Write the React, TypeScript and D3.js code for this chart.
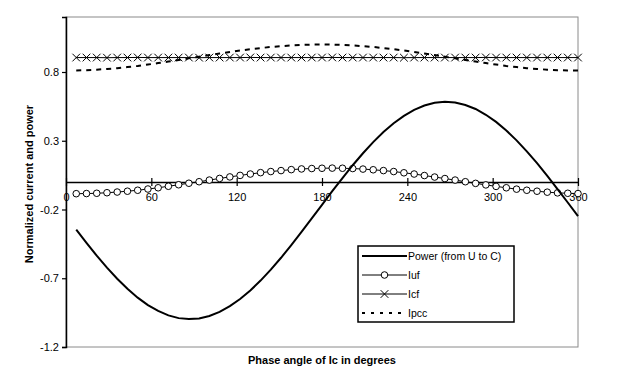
import React, { useEffect, useRef } from "react";
import * as d3 from "d3";

// phase angle of Ic, 50 points, degrees
const angles: number[] = Array.from({ length: 50 }, (_, i) => +((i + 1) * 7.2).toFixed(1));

const power: number[] = [
  -0.347, -0.443, -0.536, -0.623, -0.704, -0.777, -0.841, -0.895, -0.938, -0.970,
  -0.990, -0.997, -0.992, -0.974, -0.945, -0.903, -0.851, -0.789, -0.717, -0.637,
  -0.551, -0.459, -0.363, -0.265, -0.166, -0.067, 0.029, 0.122, 0.209, 0.290,
  0.363, 0.427, 0.481, 0.524, 0.556, 0.576, 0.583, 0.578, 0.560, 0.531,
  0.489, 0.437, 0.375, 0.303, 0.223, 0.137, 0.045, -0.051, -0.149, -0.248,
];

const iuf: number[] = [
  -0.085, -0.084, -0.082, -0.078, -0.073, -0.067, -0.060, -0.051, -0.042, -0.031,
  -0.020, -0.009, 0.002, 0.014, 0.026, 0.037, 0.048, 0.058, 0.068, 0.076,
  0.083, 0.090, 0.095, 0.098, 0.100, 0.101, 0.100, 0.098, 0.094, 0.089,
  0.083, 0.076, 0.067, 0.058, 0.047, 0.036, 0.025, 0.014, 0.002, -0.010,
  -0.021, -0.032, -0.042, -0.052, -0.060, -0.067, -0.074, -0.079, -0.082, -0.084,
];

const icf: number[] = [
  0.905, 0.905, 0.905, 0.904, 0.905, 0.905, 0.906, 0.905, 0.905, 0.905,
  0.905, 0.905, 0.904, 0.905, 0.905, 0.905, 0.905, 0.906, 0.905, 0.905,
  0.905, 0.905, 0.905, 0.905, 0.905, 0.906, 0.905, 0.905, 0.905, 0.905,
  0.905, 0.905, 0.904, 0.905, 0.905, 0.905, 0.905, 0.905, 0.905, 0.905,
  0.906, 0.905, 0.905, 0.905, 0.905, 0.905, 0.905, 0.905, 0.905, 0.905,
];

const ipcc: number[] = [
  0.811, 0.813, 0.817, 0.822, 0.828, 0.836, 0.844, 0.854, 0.865, 0.876,
  0.887, 0.899, 0.911, 0.923, 0.934, 0.945, 0.956, 0.966, 0.974, 0.982,
  0.988, 0.993, 0.997, 0.999, 1.000, 0.999, 0.997, 0.993, 0.988, 0.982,
  0.974, 0.966, 0.956, 0.945, 0.934, 0.923, 0.911, 0.899, 0.887, 0.876,
  0.865, 0.854, 0.844, 0.836, 0.828, 0.822, 0.817, 0.813, 0.811, 0.810,
];

const xTicks: number[] = [0, 60, 120, 180, 240, 300, 360];
const yTicks: number[] = [-1.2, -0.7, -0.2, 0.3, 0.8];

const legendLabels: string[] = ["Power (from U to C)", "Iuf", "Icf", "Ipcc"];

const FONT = "Arial, 'Liberation Sans', sans-serif";

const App: React.FC = () => {
  const svgRef = useRef<SVGSVGElement>(null);

  useEffect(() => {
    if (!svgRef.current) return;
    document.body.style.margin = "0";

    const svg = d3.select(svgRef.current);
    svg.selectAll("*").remove();

    const left = 66, right = 578, top = 17, bottom = 347;

    const x = d3.scaleLinear().domain([0, 360]).range([left, right]);
    const y = d3.scaleLinear().domain([-1.2, 1.2]).range([bottom, top]);

    // plot area frame
    svg.append("rect")
      .attr("x", left).attr("y", top)
      .attr("width", right - left).attr("height", bottom - top)
      .attr("fill", "none")
      .attr("stroke", "#8a8a8a")
      .attr("stroke-width", 1);

    // Y axis (plain hyphen for minus, like the original)
    const yAxis = svg.append("g")
      .attr("transform", `translate(${left},0)`)
      .call(d3.axisLeft(y).tickValues(yTicks).tickSize(4).tickPadding(3)
        .tickFormat(d => (d as number).toFixed(1)));
    yAxis.select(".domain").attr("stroke", "#000").attr("stroke-width", 1.5);
    yAxis.selectAll(".tick line").attr("stroke", "#000").attr("stroke-width", 1.2);
    yAxis.selectAll("text")
      .attr("font-family", FONT).attr("font-size", 11).attr("fill", "#000");

    // X axis at y = 0, ticks crossing the line
    const xAxis = svg.append("g")
      .attr("transform", `translate(0,${y(0)})`)
      .call(d3.axisBottom(x).tickValues(xTicks).tickSizeInner(4).tickSizeOuter(0).tickPadding(7));
    xAxis.select(".domain").attr("stroke", "#000").attr("stroke-width", 1.5);
    xAxis.selectAll(".tick line")
      .attr("y1", -4).attr("y2", 4)
      .attr("stroke", "#000").attr("stroke-width", 1.2);
    xAxis.selectAll("text")
      .attr("font-family", FONT).attr("font-size", 11).attr("fill", "#000");

    const pts = (vals: number[]) => angles.map((a, i) => [a, vals[i]] as [number, number]);
    const line = d3.line<[number, number]>().x(d => x(d[0])).y(d => y(d[1]));

    // Ipcc dashed
    svg.append("path")
      .datum(pts(ipcc))
      .attr("fill", "none").attr("stroke", "#000")
      .attr("stroke-width", 2).attr("stroke-dasharray", "5,5")
      .attr("d", line);

    // Icf with x markers
    svg.append("path")
      .datum(pts(icf))
      .attr("fill", "none").attr("stroke", "#000").attr("stroke-width", 1)
      .attr("d", line);
    const xm = d3.symbol().type(d3.symbolX).size(40);
    svg.append("g").selectAll("path")
      .data(pts(icf)).enter().append("path")
      .attr("transform", d => `translate(${x(d[0])},${y(d[1])})`)
      .attr("d", xm())
      .attr("fill", "none").attr("stroke", "#000").attr("stroke-width", 1);

    // Iuf with circles
    svg.append("path")
      .datum(pts(iuf))
      .attr("fill", "none").attr("stroke", "#000").attr("stroke-width", 1)
      .attr("d", line);
    svg.append("g").selectAll("circle")
      .data(pts(iuf)).enter().append("circle")
      .attr("cx", d => x(d[0])).attr("cy", d => y(d[1]))
      .attr("r", 3.3)
      .attr("fill", "#fff").attr("stroke", "#000").attr("stroke-width", 1);

    // Power
    svg.append("path")
      .datum(pts(power))
      .attr("fill", "none").attr("stroke", "#000").attr("stroke-width", 2)
      .attr("d", line);

    // axis titles
    svg.append("text")
      .attr("x", (left + right) / 2).attr("y", 364)
      .attr("text-anchor", "middle")
      .attr("font-family", FONT).attr("font-size", 11).attr("font-weight", "bold")
      .text("Phase angle of Ic in degrees");

    svg.append("text")
      .attr("transform", `translate(33,${y(0) + 2}) rotate(-90)`)
      .attr("text-anchor", "middle")
      .attr("font-family", FONT).attr("font-size", 11).attr("font-weight", "bold")
      .text("Normalized current and power");

    // legend
    const lx = 358, ly = 246, lw = 156, lh = 76;
    const lg = svg.append("g");
    lg.append("rect")
      .attr("x", lx).attr("y", ly).attr("width", lw).attr("height", lh)
      .attr("fill", "#fff").attr("stroke", "#000").attr("stroke-width", 1.5);

    legendLabels.forEach((label, i) => {
      const cy = ly + 10 + i * 19;
      const x0 = lx + 4, x1 = lx + 49;
      const row = lg.append("g");
      if (i === 0) {
        row.append("line").attr("x1", x0).attr("x2", x1).attr("y1", cy).attr("y2", cy)
          .attr("stroke", "#000").attr("stroke-width", 2);
      } else if (i === 3) {
        row.append("line").attr("x1", x0).attr("x2", x1).attr("y1", cy).attr("y2", cy)
          .attr("stroke", "#000").attr("stroke-width", 2).attr("stroke-dasharray", "3,6");
      } else {
        row.append("line").attr("x1", x0).attr("x2", x1).attr("y1", cy).attr("y2", cy)
          .attr("stroke", "#000").attr("stroke-width", 1);
        if (i === 1) {
          row.append("circle").attr("cx", (x0 + x1) / 2).attr("cy", cy).attr("r", 3.3)
            .attr("fill", "#fff").attr("stroke", "#000");
        } else {
          row.append("path").attr("transform", `translate(${(x0 + x1) / 2},${cy})`)
            .attr("d", xm()).attr("fill", "none").attr("stroke", "#000");
        }
      }
      row.append("text")
        .attr("x", x1 + 1).attr("y", cy).attr("dy", "0.35em")
        .attr("font-family", FONT).attr("font-size", 10.5)
        .text(label);
    });
  }, []);

  return <svg ref={svgRef} width={621} height={384} style={{ display: "block", background: "#fff" }} />;
};

export default App;
